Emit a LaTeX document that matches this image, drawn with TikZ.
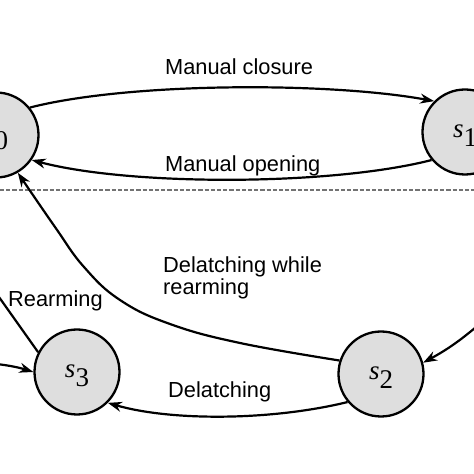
\documentclass[tikz,border=0pt]{standalone}
\usepackage{fontspec}
\setmainfont{Liberation Sans}
\newfontfamily\lser{Liberation Serif}
\usetikzlibrary{arrows.meta}
\newcommand\stlab[1]{\smash{\raisebox{-6pt}{\fontsize{27}{27}\selectfont\lser{\itshape s}\raisebox{-8.5pt}{#1}}}}
\begin{document}
\begin{tikzpicture}[x=1pt,y=1pt,
  state/.style={circle,draw=black,line width=2.3pt,fill=black!13,minimum size=85pt,inner sep=0pt},
  edge/.style={line width=2.2pt,-{Stealth[length=14pt,width=10pt]}},
  plain/.style={line width=2.2pt},
  lab/.style={font=\fontsize{21.8}{22}\selectfont,inner sep=0pt,anchor=base west,align=left},
  sep/.style={draw=black!55,line width=1.9pt,dash pattern=on 4.2pt off 2pt}]
\useasboundingbox (0,0) rectangle (474,474);
\node[state] (s0) at (-4,339) {\stlab{0}};
\node[state] (s1) at (465,342) {\stlab{1}};
\node[state] (s2) at (381,100) {\stlab{2}};
\node[state] (s3) at (77,102) {\stlab{3}};
\coordinate (sepL) at (0,284);
\coordinate (sepR) at (474,284);
\draw[sep] (sepL) -- (sepR);
\coordinate (inR) at (482,152);
\coordinate (inL) at (-3,110);
\coordinate (outL) at (-6,184);
% edges
\draw[edge] (s0.39) .. controls (130,392) and (330,392) .. (s1.135);
\draw[edge] (s1.220) .. controls (330,288) and (130,288) .. (s0.-35);
\draw[edge] plot[smooth,tension=0.7] coordinates {(s2.162) (240,131) (170,150) (120,174) (84,207) (55,247) (s0.-60)};
\draw[edge] (s2.220) .. controls (270,53) and (170,53) .. (s3.-45);
\draw[edge] (inR) to[bend left=6] (s2.15);
\draw[edge] (inL) to[bend left=5] (s3.180);
\draw[plain] (s3.153) -- (outL);
% labels
\node[lab] (l1) at (165,399) {Manual closure};
\node[lab] (l2) at (165,302) {Manual opening};
\node[lab] (l3) at (163,179) {Delatching while\\rearming};
\node[lab] (l4) at (168,76) {Delatching};
\node[lab] (l5) at (8,167) {Rearming};
\end{tikzpicture}
\end{document}
